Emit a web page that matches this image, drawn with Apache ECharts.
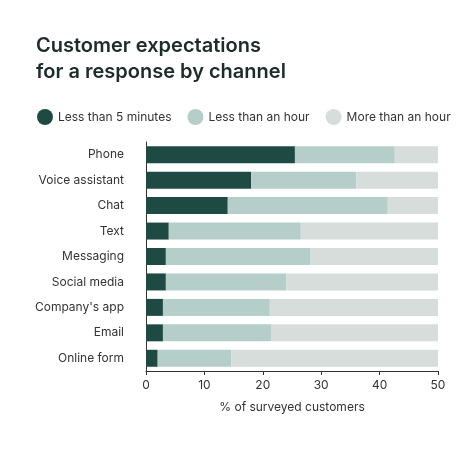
<!DOCTYPE html>
<html><head><meta charset="utf-8">
<script src="https://cdn.jsdelivr.net/npm/echarts@6/dist/echarts.min.js"></script>
<style>html,body{margin:0;padding:0;background:#fff}#c{width:474px;height:457px}</style>
</head><body><div id="c"></div>
<script>
const categories = ["Phone","Voice assistant","Chat","Text","Messaging","Social media","Company's app","Email","Online form"];
const lessThan5 = [25.5,18,14,3.9,3.4,3.4,2.9,2.9,2];
const lessThanHourTotal = [42.6,36,41.4,26.5,28.1,24,21.2,21.4,14.6];
const lessThanHour = lessThanHourTotal.map((v,i)=>+(v-lessThan5[i]).toFixed(1));
const moreThanHour = lessThanHourTotal.map(v=>+(50-v).toFixed(1));
const xTicks = [0,10,20,30,40,50];
const chart = echarts.init(document.getElementById('c'));
const font = 'Inter, "Noto Sans", sans-serif';
chart.setOption({
  animation:false,
  textStyle:{fontFamily:font},
  title:{text:'Customer expectations\nfor a response by channel',left:31,top:28,
    textStyle:{fontSize:20,fontWeight:600,color:'#1d2b2a',lineHeight:26,fontFamily:font}},
  legend:{left:32,top:104,icon:'circle',itemWidth:16,itemHeight:16,itemGap:16,
    textStyle:{fontSize:12,color:'#333',fontFamily:font},
    data:['Less than 5 minutes','Less than an hour','More than an hour']},
  grid:{left:146,right:36,top:142,bottom:86},
  xAxis:{type:'value',min:0,max:50,interval:10,
    name:'% of surveyed customers',nameLocation:'middle',nameGap:30,
    nameTextStyle:{fontSize:12,color:'#333'},
    axisLine:{show:true,lineStyle:{color:'#333'}},axisTick:{show:true,length:4,lineStyle:{color:'#333'}},
    splitLine:{show:false},axisLabel:{color:'#333',fontSize:12,formatter:v=>xTicks.includes(v)?v:''}},
  yAxis:{type:'category',data:categories,inverse:true,
    axisLine:{show:true,lineStyle:{color:'#333'}},axisTick:{show:false},
    axisLabel:{color:'#333',fontSize:12,margin:22}},
  series:[
    {name:'Less than 5 minutes',type:'bar',stack:'a',barWidth:17,data:lessThan5,itemStyle:{color:'#1f4a44'}},
    {name:'Less than an hour',type:'bar',stack:'a',data:lessThanHour,itemStyle:{color:'#b5cec9'}},
    {name:'More than an hour',type:'bar',stack:'a',data:moreThanHour,itemStyle:{color:'#d6dddb'}}
  ]
});
</script></body></html>
